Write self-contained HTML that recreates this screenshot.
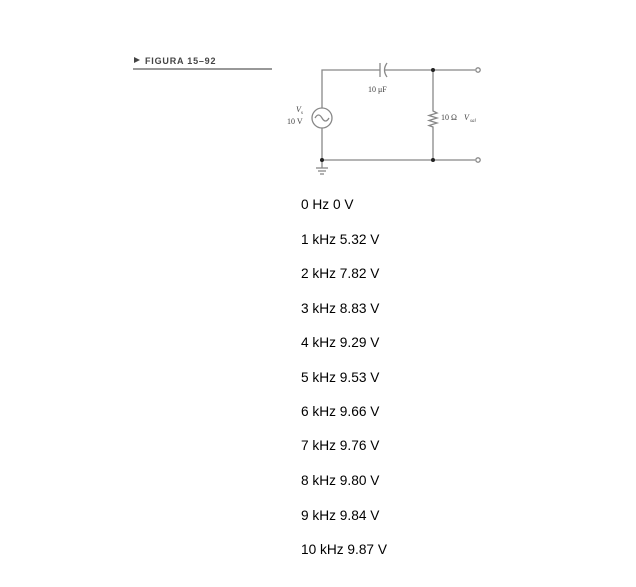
<!DOCTYPE html>
<html><head><style>
body{margin:0;width:636px;height:587px;background:#fff;position:relative;font-family:"Liberation Sans",sans-serif;}
.t{position:absolute;left:301px;font-size:13.7px;color:#000;}
</style></head><body>
<svg width="636" height="200" style="position:absolute;left:0;top:0">
<polygon points="134,57 134,63 140,60" fill="#444"/>
<text x="145" y="64" font-family="Liberation Sans" font-size="9" font-weight="bold" fill="#444" letter-spacing="0.8">FIGURA 15–92</text>
<line x1="133" y1="69" x2="272" y2="69" stroke="#777" stroke-width="1.5"/>
<g stroke="#888" stroke-width="1.3" fill="none">
<polyline points="322,108 322,70 380,70"/>
<line x1="385" y1="70" x2="475" y2="70"/>
<line x1="380" y1="63" x2="380" y2="77"/>
<path d="M387,63 Q382,70 387,77"/>
<line x1="322" y1="128" x2="322" y2="168"/>
<line x1="322" y1="160" x2="475" y2="160"/>
<polyline points="433,70 433,111 437,113 429,115.5 437,118 429,120.5 437,123 429,125.5 433,127 433,160"/>
<circle cx="322" cy="118" r="10"/>
<path d="M315,118 Q318.5,112 322,118 T329,118"/>
<circle cx="478" cy="70" r="2.2"/>
<circle cx="478" cy="160" r="2.2"/>
<line x1="316" y1="168" x2="328" y2="168"/>
<line x1="318" y1="171" x2="326" y2="171"/>
<line x1="320" y1="174" x2="324" y2="174"/>
</g>
<circle cx="433" cy="70" r="2" fill="#222"/>
<circle cx="433" cy="160" r="2" fill="#222"/>
<circle cx="322" cy="160" r="2" fill="#222"/>
<g font-family="Liberation Serif" font-size="8" fill="#444">
<text x="368" y="92">10 μF</text>
<text x="296" y="112" font-style="italic">V</text><text x="301" y="114" font-size="5">s</text>
<text x="287" y="124">10 V</text>
<text x="441" y="120">10 Ω</text>
<text x="464" y="120" font-style="italic">V</text><text x="470" y="122" font-size="5" font-style="italic">sal</text>
</g>
</svg>
<div class="t" style="top:197px">0 Hz 0 V</div>
<div class="t" style="top:232px">1 kHz 5.32 V</div>
<div class="t" style="top:266px">2 kHz 7.82 V</div>
<div class="t" style="top:301px">3 kHz 8.83 V</div>
<div class="t" style="top:335px">4 kHz 9.29 V</div>
<div class="t" style="top:370px">5 kHz 9.53 V</div>
<div class="t" style="top:404px">6 kHz 9.66 V</div>
<div class="t" style="top:438px">7 kHz 9.76 V</div>
<div class="t" style="top:473px">8 kHz 9.80 V</div>
<div class="t" style="top:508px">9 kHz 9.84 V</div>
<div class="t" style="top:542px">10 kHz 9.87 V</div>
</body></html>
